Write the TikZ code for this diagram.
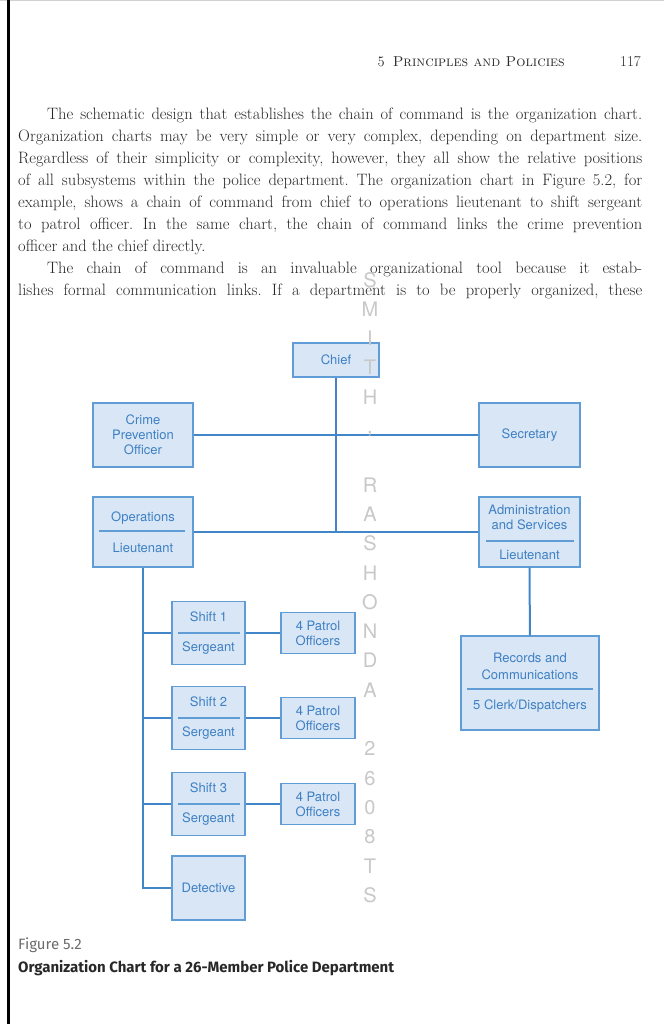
\documentclass[tikz,border=0pt]{standalone}
\usepackage{fontspec}
\newfontfamily\chartfont{TeX Gyre Heros}
\newfontfamily\capfont{Fira Sans}
\definecolor{boxfill}{RGB}{217,230,245}
\definecolor{boxline}{RGB}{96,156,214}
\definecolor{boxtext}{RGB}{62,128,196}
\definecolor{linkcol}{RGB}{66,134,202}
\definecolor{bodytext}{RGB}{40,40,40}
\definecolor{stampgray}{RGB}{200,200,200}

\begin{document}
\begin{tikzpicture}[x=1pt,y=-1pt,
  unit/.style={draw=boxline, fill=boxfill, text=boxtext, line width=1.3pt,
    inner sep=0pt, align=center, font=\chartfont\fontsize{13}{15}\selectfont},
  link/.style={draw=linkcol, line width=2pt},
  divider/.style={draw=boxline, line width=1.2pt},
  stamp/.style={anchor=base, text=stampgray, font=\chartfont\fontsize{20}{20}\selectfont}]
\useasboundingbox (0,0) rectangle (664,1024);
\fill[white] (0,0) rectangle (664,1024);
\draw[gray!35, line width=1pt] (0,0.5) -- (664,0.5);
\fill[black] (7,0) rectangle (10,1024);

% running head and text
\node[anchor=base east, inner sep=0pt, text=bodytext, font=\fontsize{14.4}{16}\selectfont] (runhead) at (565,67) {5\hspace{8pt}\textsc{Principles and Policies}};
\node[anchor=base east, inner sep=0pt, text=bodytext, font=\fontsize{15}{16}\selectfont] (folio) at (641,67) {117};
\node[anchor=north west, inner sep=0pt, text width=624pt, align=justify, text=bodytext, font=\fontsize{16.5}{22}\selectfont\frenchspacing] (para) at (18,108) {%
\hspace*{29pt}The schematic design that establishes the chain of command is the organization chart.\linebreak
Organization charts may be very simple or very complex, depending on department size.\linebreak
Regardless of their simplicity or complexity, however, they all show the relative positions\linebreak
of all subsystems within the police department. The organization chart in Figure 5.2, for\linebreak
example, shows a chain of command from chief to operations lieutenant to shift sergeant\linebreak
to patrol officer. In the same chart, the chain of command links the crime prevention\linebreak
officer and the chief directly.\par
{\parfillskip=0pt \hspace*{29pt}The chain of command is an invaluable organizational tool because it estab-\linebreak
lishes formal communication links. If a department is to be properly organized, these\par}};

% chart boxes
\node[unit, minimum width=86pt, minimum height=34pt] (chief) at (336,360) {Chief};
\node[unit, minimum width=100pt, minimum height=64pt] (crime) at (143,435) {Crime\\Prevention\\Officer};
\node[unit, minimum width=101pt, minimum height=64pt] (secretary) at (529.5,435) {Secretary};
\node[unit, minimum width=100pt, minimum height=70pt] (ops) at (143,532) {Operations\\[16pt]Lieutenant};
\node[unit, minimum width=101pt, minimum height=70pt] (admin) at (529.5,532) {Administration\\and Services\\[15pt]Lieutenant};
\node[unit, minimum width=138pt, minimum height=94pt] (records) at (530,683) {Records and\\[2pt]Communications\\[15pt]5 Clerk/Dispatchers};
\foreach \n/\y in {1/633,2/718,3/804}{
  \node[unit, minimum width=73pt, minimum height=63pt] (shift\n) at (208.5,\y) {Shift \n\\[15pt]Sergeant};
  \node[unit, minimum width=74pt, minimum height=41pt] (patrol\n) at (318,\y) {4 Patrol\\Officers};
  \draw[divider] ([xshift=7pt]shift\n.west) -- ([xshift=-6pt]shift\n.east);
}
\node[unit, minimum width=73pt, minimum height=64pt] (detective) at (208.5,888) {Detective};

% dividers
\draw[divider] ([xshift=7pt,yshift=1pt]ops.west) -- ([xshift=-9pt,yshift=1pt]ops.east);
\draw[divider] ([xshift=8pt,yshift=-9pt]admin.west) -- ([xshift=-7pt,yshift=-9pt]admin.east);
\draw[divider] ([xshift=7pt,yshift=-6pt]records.west) -- ([xshift=-7pt,yshift=-6pt]records.east);

% links
\draw[link] (chief.south) -- (chief.south |- ops.east);
\draw[link] (crime) -- (secretary);
\draw[link] (ops) -- (admin);
\draw[link] (admin) -- (records);
\draw[link] (ops.south) |- (detective.west);
\foreach \n in {1,2,3}{
  \draw[link] (ops.south |- shift\n.west) -- (shift\n.west);
  \draw[link] (shift\n) -- (patrol\n);
}

% caption
\node[anchor=base west, inner sep=0pt, text=gray!85!black, font=\capfont\fontsize{15}{16}\selectfont] (figno) at (18,949) {Figure 5.2};
\node[anchor=base west, inner sep=0pt, text=bodytext, font=\capfont\bfseries\fontsize{15}{16}\selectfont] (figtitle) at (18,972) {Organization Chart for a 26-Member Police Department};

% watermark
\foreach \ch [count=\i from 0] in {S,M,I,T,H,{,},{},R,A,S,H,O,N,D,A,{},2,6,0,8,T,S}
  \node[stamp] at (370,287+29.3*\i) {\ch};
\end{tikzpicture}
\end{document}
